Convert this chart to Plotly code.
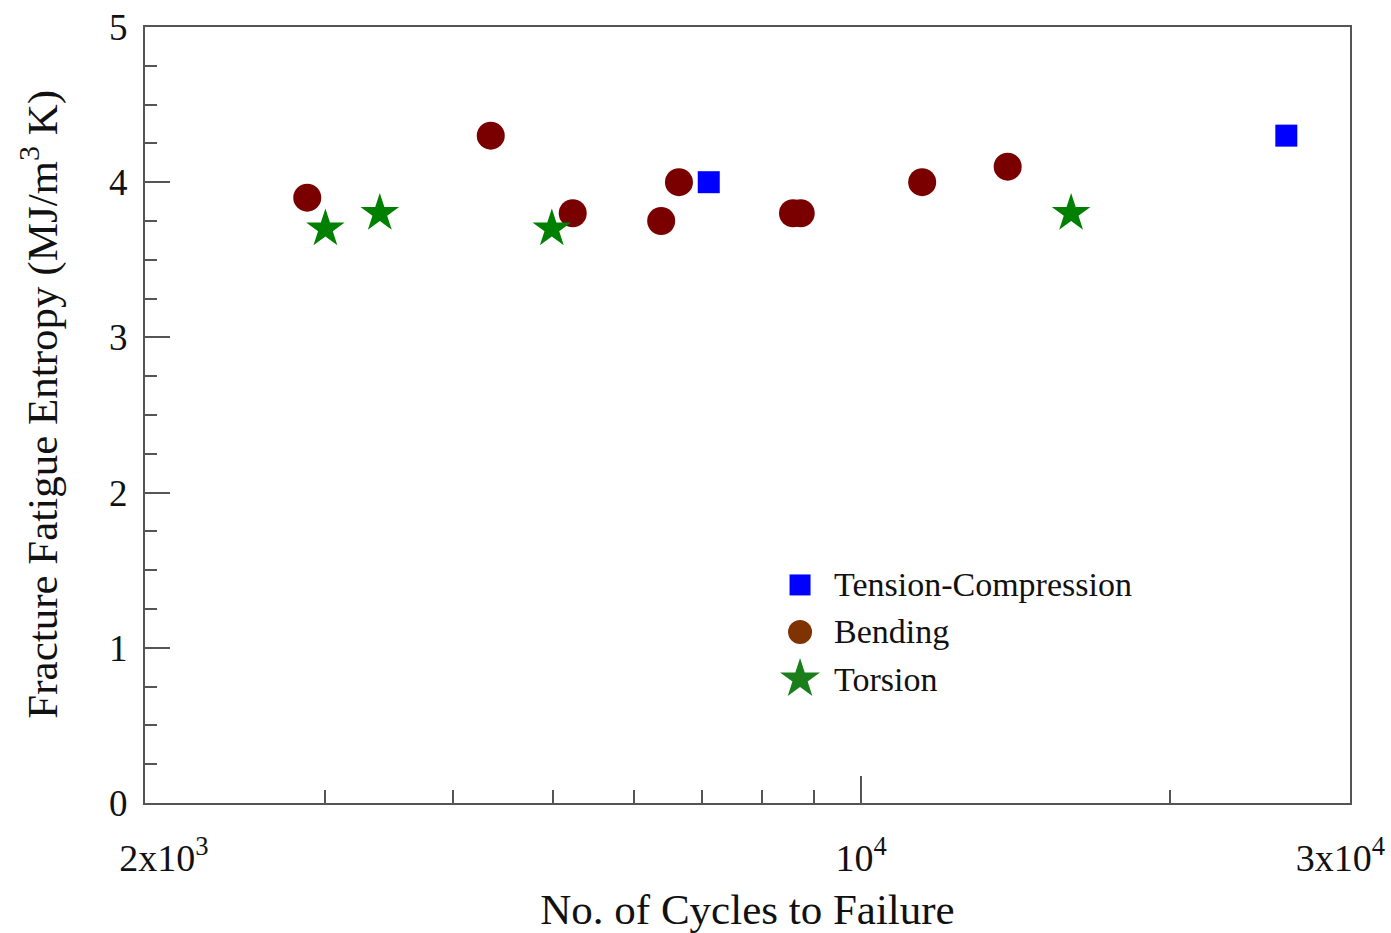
import plotly.graph_objects as go

# Data
tc_cycles = [7100, 26000]
tc_entropy = [4.0, 4.3]

bend_cycles = [2880, 4350, 5230, 6380, 6640, 8580, 8730, 11470, 13900]
bend_entropy = [3.9, 4.3, 3.8, 3.75, 4.0, 3.8, 3.8, 4.0, 4.1]

tor_cycles = [3000, 3390, 4990, 16030]
tor_entropy = [3.7, 3.8, 3.7, 3.8]

x_tickvals = [2000, 10000, 30000]
x_ticktext = ["&nbsp;&nbsp;&nbsp;&nbsp;2x10<sup>3</sup>", "10<sup>4</sup>",
              "3x10<sup>4</sup>&nbsp;&nbsp;"]
y_tickvals = [0, 1, 2, 3, 4, 5]

legend_labels = ["Tension-Compression", "Bending", "Torsion"]
legend_symbols = ["square", "circle", "star"]
legend_colors = ["#0000FF", "#7F3300", "#1A7F1A"]
legend_sizes = [21, 24, 30]

FONT = "Liberation Serif, Times New Roman, serif"
axis_line = "#555555"

fig = go.Figure()

fig.add_trace(go.Scatter(
    x=tc_cycles, y=tc_entropy, mode="markers", name="Tension-Compression",
    marker=dict(symbol="square", size=22, color="#0000FF"), showlegend=False))
fig.add_trace(go.Scatter(
    x=bend_cycles, y=bend_entropy, mode="markers", name="Bending",
    marker=dict(symbol="circle", size=28, color="#7A0000"), showlegend=False))
fig.add_trace(go.Scatter(
    x=tor_cycles, y=tor_entropy, mode="markers", name="Torsion",
    marker=dict(symbol="star", size=29, color="#008000"), showlegend=False))

# Custom legend on an overlaid unit axis (keys only)
leg_x0 = 0.5436
leg_y0 = 0.281
leg_dy = 0.0606
for i, (lab, sym, col, sz) in enumerate(zip(legend_labels, legend_symbols, legend_colors, legend_sizes)):
    yy = leg_y0 - i * leg_dy
    fig.add_trace(go.Scatter(
        x=[leg_x0], y=[yy], mode="markers", xaxis="x2", yaxis="y2",
        marker=dict(symbol=sym, size=sz, color=col), showlegend=False, hoverinfo="skip"))
    fig.add_annotation(
        x=0.570, y=yy, xref="x2", yref="y2", text=lab, showarrow=False,
        xanchor="left", yanchor="middle",
        font=dict(family=FONT, size=34, color="#111111"))

fig.update_layout(
    width=1391, height=933,
    margin=dict(l=145, r=41, t=27, b=130, autoexpand=False),
    paper_bgcolor="white", plot_bgcolor="white",
    font=dict(family=FONT, size=34, color="#111111"),
    showlegend=False,
    xaxis=dict(
        type="log", range=[3.30103, 4.4771213],
        tickvals=x_tickvals, ticktext=x_ticktext,
        ticks="inside", ticklen=27, tickwidth=2, tickcolor=axis_line,
        minor=dict(ticks="inside", ticklen=13, tickwidth=2, tickcolor=axis_line,
                   dtick="D1", showgrid=False),
        showline=True, linecolor=axis_line, linewidth=2, mirror=True,
        showgrid=False, zeroline=False, automargin=False,
        ticklabeloverflow="allow",
        tickfont=dict(family=FONT, size=38),
        ticklabelstandoff=20,
        title=dict(text="No. of Cycles to Failure", font=dict(family=FONT, size=43),
                   standoff=16),
    ),
    yaxis=dict(
        range=[0, 5], tickvals=y_tickvals,
        ticks="inside", ticklen=25, tickwidth=2, tickcolor=axis_line,
        minor=dict(ticks="inside", ticklen=12, tickwidth=2, tickcolor=axis_line,
                   dtick=0.25, showgrid=False),
        showline=True, linecolor=axis_line, linewidth=2, mirror=True,
        showgrid=False, zeroline=False, automargin=False,
        ticklabeloverflow="allow",
        tickfont=dict(family=FONT, size=37),
        ticklabelstandoff=8,
        title=dict(text="&nbsp;&nbsp;Fracture Fatigue Entropy (MJ/m<sup>3</sup> K)",
                   font=dict(family=FONT, size=43), standoff=38),
    ),
    xaxis2=dict(range=[0, 1], overlaying="x", visible=False, fixedrange=True),
    yaxis2=dict(range=[0, 1], overlaying="y", visible=False, fixedrange=True),
)

fig.write_html("out.html")
